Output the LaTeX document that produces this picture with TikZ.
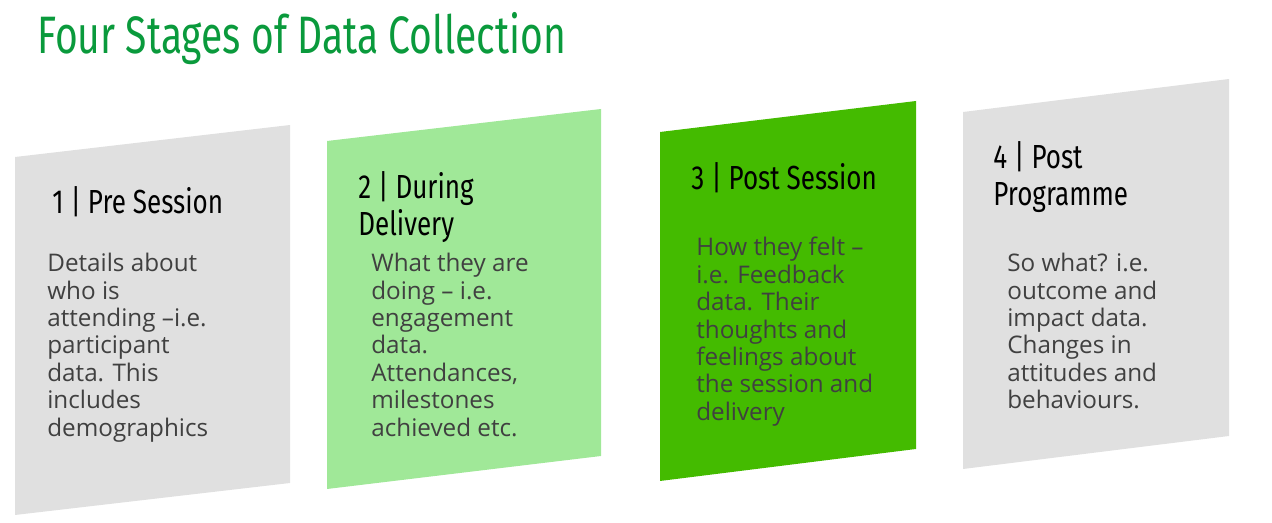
\documentclass[tikz,border=0pt]{standalone}
\usepackage{fontspec}
\setmainfont{Open Sans}
\newfontfamily\headfont[FakeStretch=0.78]{Fira Sans}
\newfontfamily\titlefont[FakeStretch=0.74]{Fira Sans}
\definecolor{titlegreen}{HTML}{0A9A3C}
\definecolor{panelgray}{HTML}{E0E0E0}
\definecolor{lightgreen}{HTML}{A0E898}
\definecolor{midgreen}{HTML}{44BB00}
\definecolor{bodytext}{HTML}{404040}
\tikzset{
  head/.style={anchor=north west, inner sep=0pt, align=left, font=\headfont\fontsize{19}{21}\selectfont},
  body/.style={anchor=north west, inner sep=0pt, align=left, text=bodytext,
    font=\fontsize{13.8}{15.6}\selectfont}
}
\begin{document}
\begin{tikzpicture}[x=0.02cm, y=-0.02cm]
    \useasboundingbox (0,0) rectangle (1272,523);
    % panels
    \fill[panelgray] (15,157) -- (290,125) -- (290,483) -- (15,515) -- cycle;
    \fill[lightgreen] (327,141) -- (601,109) -- (601,456) -- (327,489) -- cycle;
    \fill[midgreen] (660,132) -- (916,101) -- (916,449) -- (660,481) -- cycle;
    \fill[panelgray] (963,112) -- (1229,79) -- (1229,436) -- (963,469) -- cycle;
    % title
    \node[anchor=base west, inner sep=0pt, text=titlegreen, font=\titlefont\fontsize{30}{32}\selectfont] (title) at (37,54) {Four Stages of Data Collection};
    % headings
    \node[head] (h1) at (52,186) {1 | Pre Session};
    \node[head] (h2) at (358,171) {2 | During\\Delivery};
    \node[head] (h3) at (691,162) {3 | Post Session};
    \node[head] (h4) at (993,141) {4 | Post\\Programme};
    % bodies
    \node[body] (b1) at (47,253) {Details about\\who is\\attending –i.e.\\participant\\data. This\\includes\\demographics};
    \node[body] (b2) at (371,253) {What they are\\doing – i.e.\\engagement\\data.\\Attendances,\\milestones\\achieved etc.};
    \node[body] (b3) at (696,237) {How they felt –\\i.e. Feedback\\data. Their\\thoughts and\\feelings about\\the session and\\delivery};
    \node[body] (b4) at (1007,253) {So what? i.e.\\outcome and\\impact data.\\Changes in\\attitudes and\\behaviours.};
\end{tikzpicture}
\end{document}
